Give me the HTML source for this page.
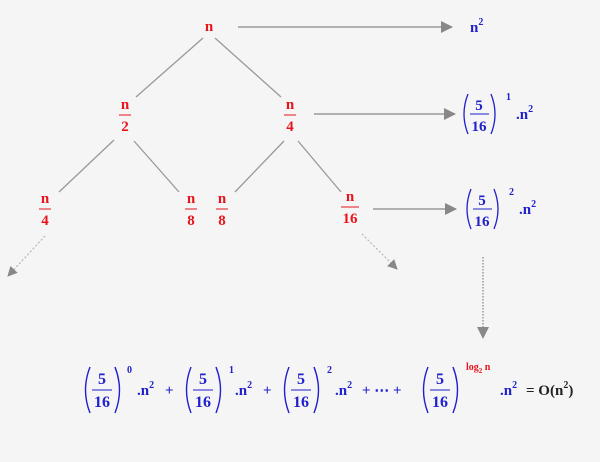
<!DOCTYPE html>
<html><head><meta charset="utf-8"><style>
html,body{margin:0;padding:0;background:#f5f5f5;}
svg{display:block;}
text{font-family:"Liberation Serif",serif;font-weight:bold;}
.r{fill:#e8141c;font-size:15px;}
.b{fill:#2020cc;font-size:15px;}
.s{font-size:10px;}
.k{fill:#222;font-size:15px;}
</style></head><body>
<svg width="600" height="462" viewBox="0 0 600 462" xmlns="http://www.w3.org/2000/svg">
<defs>
<marker id="a" markerWidth="10" markerHeight="10" refX="9" refY="5" orient="auto" markerUnits="userSpaceOnUse"><path d="M0,0 L10,5 L0,10 z" fill="#888"/></marker>
<marker id="a2" markerWidth="12" markerHeight="12" refX="11" refY="6" orient="auto" markerUnits="userSpaceOnUse"><path d="M0,0 L12,6 L0,12 z" fill="#888"/></marker>
</defs>
<g stroke="#999" stroke-width="1.3" fill="none">
<line x1="203" y1="38" x2="136" y2="97"/>
<line x1="215" y1="38" x2="281" y2="97"/>
<line x1="114" y1="140" x2="59" y2="192"/>
<line x1="134" y1="141" x2="179" y2="192"/>
<line x1="284" y1="141" x2="235" y2="192"/>
<line x1="298" y1="141" x2="341" y2="192"/>
</g>
<g stroke="#999" stroke-width="1.5" fill="none">
<line x1="238" y1="27" x2="452" y2="27" marker-end="url(#a2)"/>
<line x1="314" y1="114" x2="455" y2="114" marker-end="url(#a2)"/>
<line x1="373" y1="209" x2="456" y2="209" marker-end="url(#a2)"/>
</g>
<g stroke="#bbb" stroke-width="1.3" fill="none" stroke-dasharray="2,2">
<line x1="45" y1="236" x2="8" y2="276" marker-end="url(#a)"/>
<line x1="362" y1="234" x2="397" y2="269" marker-end="url(#a)"/>
</g>
<line x1="483" y1="257" x2="483" y2="338" stroke="#999" stroke-width="1.5" stroke-dasharray="1.5,1.5" marker-end="url(#a2)"/>

<!-- tree nodes -->
<text class="r" x="209" y="31" text-anchor="middle">n</text>
<text class="r" x="125" y="109" text-anchor="middle">n</text><line x1="119" y1="115" x2="131" y2="115" stroke="#e8141c" stroke-width="1"/><text class="r" x="125" y="131" text-anchor="middle">2</text>
<text class="r" x="290" y="109" text-anchor="middle">n</text><line x1="284" y1="115" x2="296" y2="115" stroke="#e8141c" stroke-width="1"/><text class="r" x="290" y="131" text-anchor="middle">4</text>
<text class="r" x="45" y="203" text-anchor="middle">n</text><line x1="39" y1="209" x2="51" y2="209" stroke="#e8141c" stroke-width="1"/><text class="r" x="45" y="225" text-anchor="middle">4</text>
<text class="r" x="191" y="203" text-anchor="middle">n</text><line x1="185" y1="209" x2="197" y2="209" stroke="#e8141c" stroke-width="1"/><text class="r" x="191" y="225" text-anchor="middle">8</text>
<text class="r" x="222" y="203" text-anchor="middle">n</text><line x1="216" y1="209" x2="228" y2="209" stroke="#e8141c" stroke-width="1"/><text class="r" x="222" y="225" text-anchor="middle">8</text>
<text class="r" x="350" y="201" text-anchor="middle">n</text><line x1="341" y1="207" x2="359" y2="207" stroke="#e8141c" stroke-width="1"/><text class="r" x="350" y="223" text-anchor="middle">16</text>

<!-- right column -->
<text class="b" x="470" y="32">n<tspan class="s" dy="-7">2</tspan></text>

<g transform="translate(460,114)">
<path d="M8,-20 Q0,0 8,20" stroke="#2020cc" stroke-width="1.3" fill="none"/>
<text class="b" x="19" y="-4" text-anchor="middle">5</text>
<line x1="10" y1="0" x2="29" y2="0" stroke="#2020cc" stroke-width="1"/>
<text class="b" x="19" y="17" text-anchor="middle">16</text>
<path d="M31,-20 Q39,0 31,20" stroke="#2020cc" stroke-width="1.3" fill="none"/>
<text class="b s" x="46" y="-14">1</text>
<text class="b" x="56" y="5">.n<tspan class="s" dy="-7">2</tspan></text>
</g>
<g transform="translate(463,209)">
<path d="M8,-20 Q0,0 8,20" stroke="#2020cc" stroke-width="1.3" fill="none"/>
<text class="b" x="19" y="-4" text-anchor="middle">5</text>
<line x1="10" y1="0" x2="29" y2="0" stroke="#2020cc" stroke-width="1"/>
<text class="b" x="19" y="17" text-anchor="middle">16</text>
<path d="M31,-20 Q39,0 31,20" stroke="#2020cc" stroke-width="1.3" fill="none"/>
<text class="b s" x="46" y="-14">2</text>
<text class="b" x="56" y="5">.n<tspan class="s" dy="-7">2</tspan></text>
</g>

<!-- bottom formula -->
<g transform="translate(81,390)">
<path d="M9,-23 Q0,0 9,23" stroke="#2020cc" stroke-width="1.4" fill="none"/>
<text class="b" x="21" y="-6" text-anchor="middle" style="font-size:16px">5</text>
<line x1="11" y1="0" x2="31" y2="0" stroke="#2020cc" stroke-width="1"/>
<text class="b" x="21" y="17" text-anchor="middle" style="font-size:16px">16</text>
<path d="M34,-23 Q43,0 34,23" stroke="#2020cc" stroke-width="1.4" fill="none"/>
<text class="b s" x="46" y="-17">0</text>
<text class="b" x="56" y="5">.n<tspan class="s" dy="-7">2</tspan></text>
<text class="b" x="84" y="5">+</text>
</g>
<g transform="translate(182,390)">
<path d="M9,-23 Q0,0 9,23" stroke="#2020cc" stroke-width="1.4" fill="none"/>
<text class="b" x="21" y="-6" text-anchor="middle" style="font-size:16px">5</text>
<line x1="11" y1="0" x2="31" y2="0" stroke="#2020cc" stroke-width="1"/>
<text class="b" x="21" y="17" text-anchor="middle" style="font-size:16px">16</text>
<path d="M34,-23 Q43,0 34,23" stroke="#2020cc" stroke-width="1.4" fill="none"/>
<text class="b s" x="47" y="-17">1</text>
<text class="b" x="53" y="5">.n<tspan class="s" dy="-7">2</tspan></text>
<text class="b" x="81" y="5">+</text>
</g>
<g transform="translate(280,390)">
<path d="M9,-23 Q0,0 9,23" stroke="#2020cc" stroke-width="1.4" fill="none"/>
<text class="b" x="21" y="-6" text-anchor="middle" style="font-size:16px">5</text>
<line x1="11" y1="0" x2="31" y2="0" stroke="#2020cc" stroke-width="1"/>
<text class="b" x="21" y="17" text-anchor="middle" style="font-size:16px">16</text>
<path d="M34,-23 Q43,0 34,23" stroke="#2020cc" stroke-width="1.4" fill="none"/>
<text class="b s" x="47" y="-17">2</text>
<text class="b" x="55" y="5">.n<tspan class="s" dy="-7">2</tspan></text>
<text class="b" x="82" y="5">+ ⋯ +</text>
</g>
<g transform="translate(419,390)">
<path d="M9,-23 Q0,0 9,23" stroke="#2020cc" stroke-width="1.4" fill="none"/>
<text class="b" x="21" y="-6" text-anchor="middle" style="font-size:16px">5</text>
<line x1="11" y1="0" x2="31" y2="0" stroke="#2020cc" stroke-width="1"/>
<text class="b" x="21" y="17" text-anchor="middle" style="font-size:16px">16</text>
<path d="M34,-23 Q43,0 34,23" stroke="#2020cc" stroke-width="1.4" fill="none"/>
<text x="47" y="-20" style="fill:#e8141c;font-size:10px;">log<tspan dy="3" style="font-size:7px">2</tspan><tspan dy="-3"> n</tspan></text>
<text class="b" x="81" y="5">.n<tspan class="s" dy="-7">2</tspan></text>
<text class="k" x="107" y="5">= O(n<tspan class="s" dy="-7">2</tspan><tspan dy="7">)</tspan></text>
</g>
</svg>
</body></html>
